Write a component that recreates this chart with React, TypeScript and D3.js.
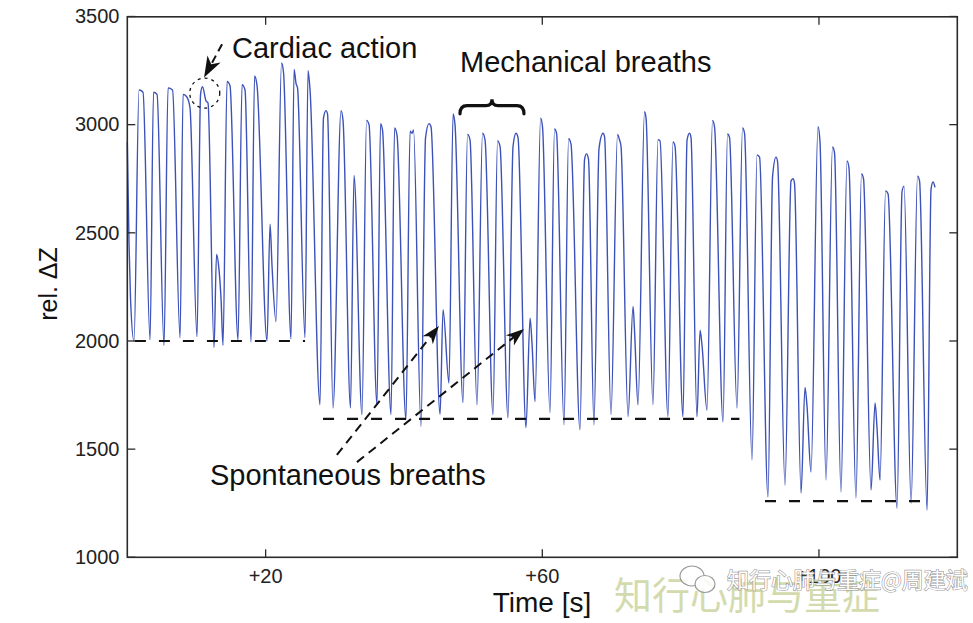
import React from "react";
import * as d3 from "d3";

// Impedance trace keypoints: [time (s), rel. ΔZ]
const impedanceTrace: [number, number][] = [
  [0.0, 2920], [0.25, 2450], [0.46, 2200], [0.97, 2000],
  [1.7, 3160], [2.27, 3150], [3.29, 2005],
  [3.79, 3150], [4.3, 3140], [5.31, 1980],
  [5.89, 3170], [6.54, 3160], [7.63, 2015],
  [8.06, 3140], [8.56, 3130], [9.06, 3080], [10.08, 2020],
  [10.59, 3140], [10.87, 3175], [11.38, 3110], [11.67, 3100], [12.54, 1970],
  [12.9, 2400], [13.26, 2330], [13.56, 2190], [13.84, 1980],
  [14.42, 3200], [14.85, 3180], [16.01, 2005],
  [16.59, 3185], [17.02, 3160], [17.89, 1995],
  [18.4, 3225], [18.76, 3180], [20.2, 2000],
  [20.64, 2540], [20.92, 2350], [21.5, 2090],
  [22.3, 3285], [22.59, 3240], [23.67, 2010],
  [24.11, 3255], [24.4, 3190], [24.61, 3170], [25.69, 2015],
  [26.13, 3250], [26.42, 3160], [27.86, 1705],
  [28.36, 3030], [28.73, 3065], [28.95, 3050], [29.74, 1690],
  [30.9, 3065], [31.19, 3020], [32.27, 1690],
  [32.78, 2765], [33.93, 1660],
  [34.59, 3020], [34.95, 3000], [36.1, 1705],
  [36.61, 3005], [36.9, 2975], [38.13, 1660],
  [38.64, 2985], [39.0, 2950], [40.29, 1635],
  [40.88, 2970], [41.17, 2960], [41.38, 2975], [42.46, 1605],
  [43.12, 2940], [43.62, 3005], [43.91, 2990], [45.22, 1660],
  [45.65, 2145], [46.51, 1805],
  [47.1, 3050], [47.38, 3000], [48.54, 1715],
  [49.19, 2955], [49.55, 2930], [50.56, 1705],
  [51.36, 2960], [51.72, 2930], [52.87, 1660],
  [53.53, 2925], [53.89, 2900], [55.04, 1645],
  [55.77, 2900], [56.2, 2960], [56.49, 2940], [57.64, 1600],
  [58.23, 2105], [58.51, 1990], [58.95, 1720],
  [59.75, 3030], [60.03, 2990], [61.11, 1668],
  [61.77, 2980], [62.06, 2960], [63.14, 1612],
  [63.8, 2935], [64.15, 2910], [65.45, 1590],
  [66.11, 2840], [66.4, 2865], [66.68, 2840], [67.47, 1612],
  [68.2, 2890], [68.78, 2960], [69.0, 2945], [69.93, 1660],
  [70.88, 2955], [71.16, 2930], [71.38, 2900], [72.4, 1650],
  [73.12, 2160], [73.33, 2050], [73.84, 1705],
  [74.78, 3060], [75.0, 3030], [76.0, 1705],
  [76.73, 2930], [77.02, 2925], [78.17, 1650],
  [78.9, 2920], [79.19, 2900], [80.34, 1650],
  [80.93, 2930], [81.29, 2960], [81.5, 2940], [82.36, 1650],
  [82.81, 2050], [83.09, 1980], [83.81, 1680],
  [84.61, 3020], [84.9, 2990], [86.13, 1626],
  [86.78, 2957], [87.07, 2940], [88.15, 1690],
  [88.95, 2985], [89.24, 2960], [90.32, 1450],
  [91.05, 2860], [91.41, 2850], [92.63, 1278],
  [93.29, 2760], [93.79, 2850], [94.01, 2830], [95.09, 1333],
  [95.96, 2740], [96.25, 2750], [96.46, 2730], [97.41, 1297],
  [97.98, 1785], [98.27, 1700], [98.85, 1394],
  [99.86, 2990], [100.15, 2920], [101.02, 1357],
  [101.96, 2897], [102.25, 2870], [103.18, 1302],
  [104.06, 2832], [104.34, 2800], [105.35, 1274],
  [106.15, 2772], [106.44, 2750], [107.53, 1311],
  [108.11, 1714], [108.39, 1600], [108.83, 1357],
  [109.63, 2693], [109.99, 2680], [111.29, 1227],
  [112.01, 2690], [112.3, 2716], [113.32, 1250],
  [114.25, 2762], [114.54, 2740], [115.63, 1218],
  [116.2, 2700], [116.49, 2735], [116.78, 2710],
];

// End-expiratory baselines: start (s), end (s), level
const baselineStarts = [1.1, 28.3, 92.2];
const baselineEnds = [25.7, 88.5, 115.6];
const baselineLevels = [2000, 1640, 1260];

const yTickValues = [1000, 1500, 2000, 2500, 3000, 3500];
const xTickValues = [20, 60, 100];
const xTickLabels = ["+20", "+60", "+100"];

const FONT = "'Liberation Sans', Arial, Helvetica, sans-serif";
const CJK = "'Noto Sans CJK SC', sans-serif";

const W = 973;
const H = 623;
const PL = 127.3;
const PR = 957.3;
const PT = 16.8;
const PB = 557.3;

function arrowHead(x1: number, y1: number, x2: number, y2: number, L: number, hw: number) {
  const dx = x2 - x1;
  const dy = y2 - y1;
  const len = Math.hypot(dx, dy);
  const ux = dx / len;
  const uy = dy / len;
  const px = -uy;
  const py = ux;
  const bx = x2 - ux * L;
  const by = y2 - uy * L;
  const nx = x2 - ux * (L * 0.72);
  const ny = y2 - uy * (L * 0.72);
  const pts = [
    [x2, y2],
    [bx + px * hw, by + py * hw],
    [nx, ny],
    [bx - px * hw, by - py * hw],
  ];
  return { d: "M" + pts.map((p) => p.join(",")).join("L") + "Z", nx, ny };
}

function DashedArrow({ x1, y1, x2, y2, L = 18, hw = 6.5, dash = "9,6" }: any) {
  const h = arrowHead(x1, y1, x2, y2, L, hw);
  return (
    <g>
      <line x1={x1} y1={y1} x2={h.nx} y2={h.ny} stroke="#111" strokeWidth={2} strokeDasharray={dash} />
      <path d={h.d} fill="#111" />
    </g>
  );
}

export default function App() {
  const x = d3.scaleLinear().domain([0, 120]).range([PL, PR]);
  const y = d3.scaleLinear().domain([1000, 3500]).range([PB, 16.5]);

  const line = d3
    .line<[number, number]>()
    .x((d) => x(d[0]))
    .y((d) => y(d[1]))
    .curve(d3.curveMonotoneX);

  const tickLen = 8;

  // brace over the mechanical breaths
  const bx0 = x(48.1);
  const bx1 = x(57.35);
  const bxm = (bx0 + bx1) / 2;
  const byTop = y(3118);
  const byMid = y(3088);
  const byBot = y(3050);
  const braceD = `M${bx0},${byBot} Q${bx0},${byMid} ${bx0 + 7},${byMid} L${bxm - 6},${byMid} Q${bxm},${byMid} ${bxm},${byTop} Q${bxm},${byMid} ${bxm + 6},${byMid} L${bx1 - 7},${byMid} Q${bx1},${byMid} ${bx1},${byBot}`;

  return (
    <svg
      width={W}
      height={H}
      style={{ position: "absolute", left: 0, top: 0, background: "#fff" }}
      fontFamily={FONT}
    >
      <rect x={0} y={0} width={W} height={H} fill="#fff" />

      {/* trace */}
      <path d={line(impedanceTrace) || ""} fill="none" stroke="#3d52b8" strokeWidth={1.4} strokeLinejoin="round" />

      {/* baselines */}
      {baselineLevels.map((lv, i) => (
        <line
          key={i}
          x1={x(baselineStarts[i])}
          x2={x(baselineEnds[i])}
          y1={y(lv)}
          y2={y(lv)}
          stroke="#111"
          strokeWidth={2.2}
          strokeDasharray="11,13"
        />
      ))}

      {/* frame */}
      <rect x={PL} y={PT} width={PR - PL} height={PB - PT} fill="none" stroke="#2a2a2a" strokeWidth={1.6} />

      {/* y ticks */}
      {yTickValues.map((v) => (
        <g key={v}>
          <line x1={PL} x2={PL + tickLen} y1={y(v)} y2={y(v)} stroke="#2a2a2a" strokeWidth={1.3} />
          <line x1={PR} x2={PR - tickLen} y1={y(v)} y2={y(v)} stroke="#2a2a2a" strokeWidth={1.3} />
          <text x={119.5} y={y(v) + 1.5} textAnchor="end" dominantBaseline="middle" fontSize={20} fill="#222">
            {v}
          </text>
        </g>
      ))}

      {/* x ticks */}
      {xTickValues.map((t, i) => (
        <g key={t}>
          <line x1={x(t)} x2={x(t)} y1={PB} y2={PB - tickLen} stroke="#2a2a2a" strokeWidth={1.3} />
          <line x1={x(t)} x2={x(t)} y1={PT} y2={PT + tickLen} stroke="#2a2a2a" strokeWidth={1.3} />
          <text x={x(t)} y={583} textAnchor="middle" fontSize={20} fill="#222">
            {xTickLabels[i]}
          </text>
        </g>
      ))}

      {/* axis titles */}
      <text x={542} y={612} textAnchor="middle" fontSize={28} fill="#111">
        Time [s]
      </text>
      <text transform="translate(57,284) rotate(-90)" textAnchor="middle" fontSize={25} fill="#111">
        rel. ΔZ
      </text>

      {/* annotations */}
      <text x={232} y={58} fontSize={29} fill="#111">
        Cardiac action
      </text>
      <DashedArrow x1={x(13.7)} y1={y(3372)} x2={x(11.1)} y2={y(3218)} L={21} hw={7.5} dash="8,5" />
      <circle cx={x(11.2)} cy={y(3146)} r={15} fill="none" stroke="#111" strokeWidth={1.3} strokeDasharray="3,4" />

      <text x={460} y={72} fontSize={29} fill="#111">
        Mechanical breaths
      </text>
      <path d={braceD} fill="none" stroke="#111" strokeWidth={3.2} strokeLinecap="round" />

      <text x={210} y={485} fontSize={29} fill="#111">
        Spontaneous breaths
      </text>
      <DashedArrow x1={x(30.3)} y1={y(1473)} x2={x(45.05)} y2={y(2069)} />
      <DashedArrow x1={x(33.2)} y1={y(1440)} x2={x(57.35)} y2={y(2055)} />

      {/* watermark */}
      <text x={614} y={609} fontSize={38} fill="#cfd8a6" fontFamily={CJK} opacity={0.9}>
        知行心肺与重症
      </text>
      <g opacity={0.85}>
        <ellipse cx={692} cy={576} rx={12} ry={10} fill="#fff" stroke="#8a8a8a" strokeWidth={1.2} />
        <ellipse cx={705} cy={584} rx={10} ry={8.5} fill="#fff" stroke="#8a8a8a" strokeWidth={1.2} />
        <text
          x={727}
          y={588}
          fontSize={22}
          fontFamily={CJK}
          fill="#fff"
          stroke="#8a8a8a"
          strokeWidth={1.2}
          paintOrder="stroke"
        >
          知行心肺与重症@周建斌
        </text>
      </g>
    </svg>
  );
}
